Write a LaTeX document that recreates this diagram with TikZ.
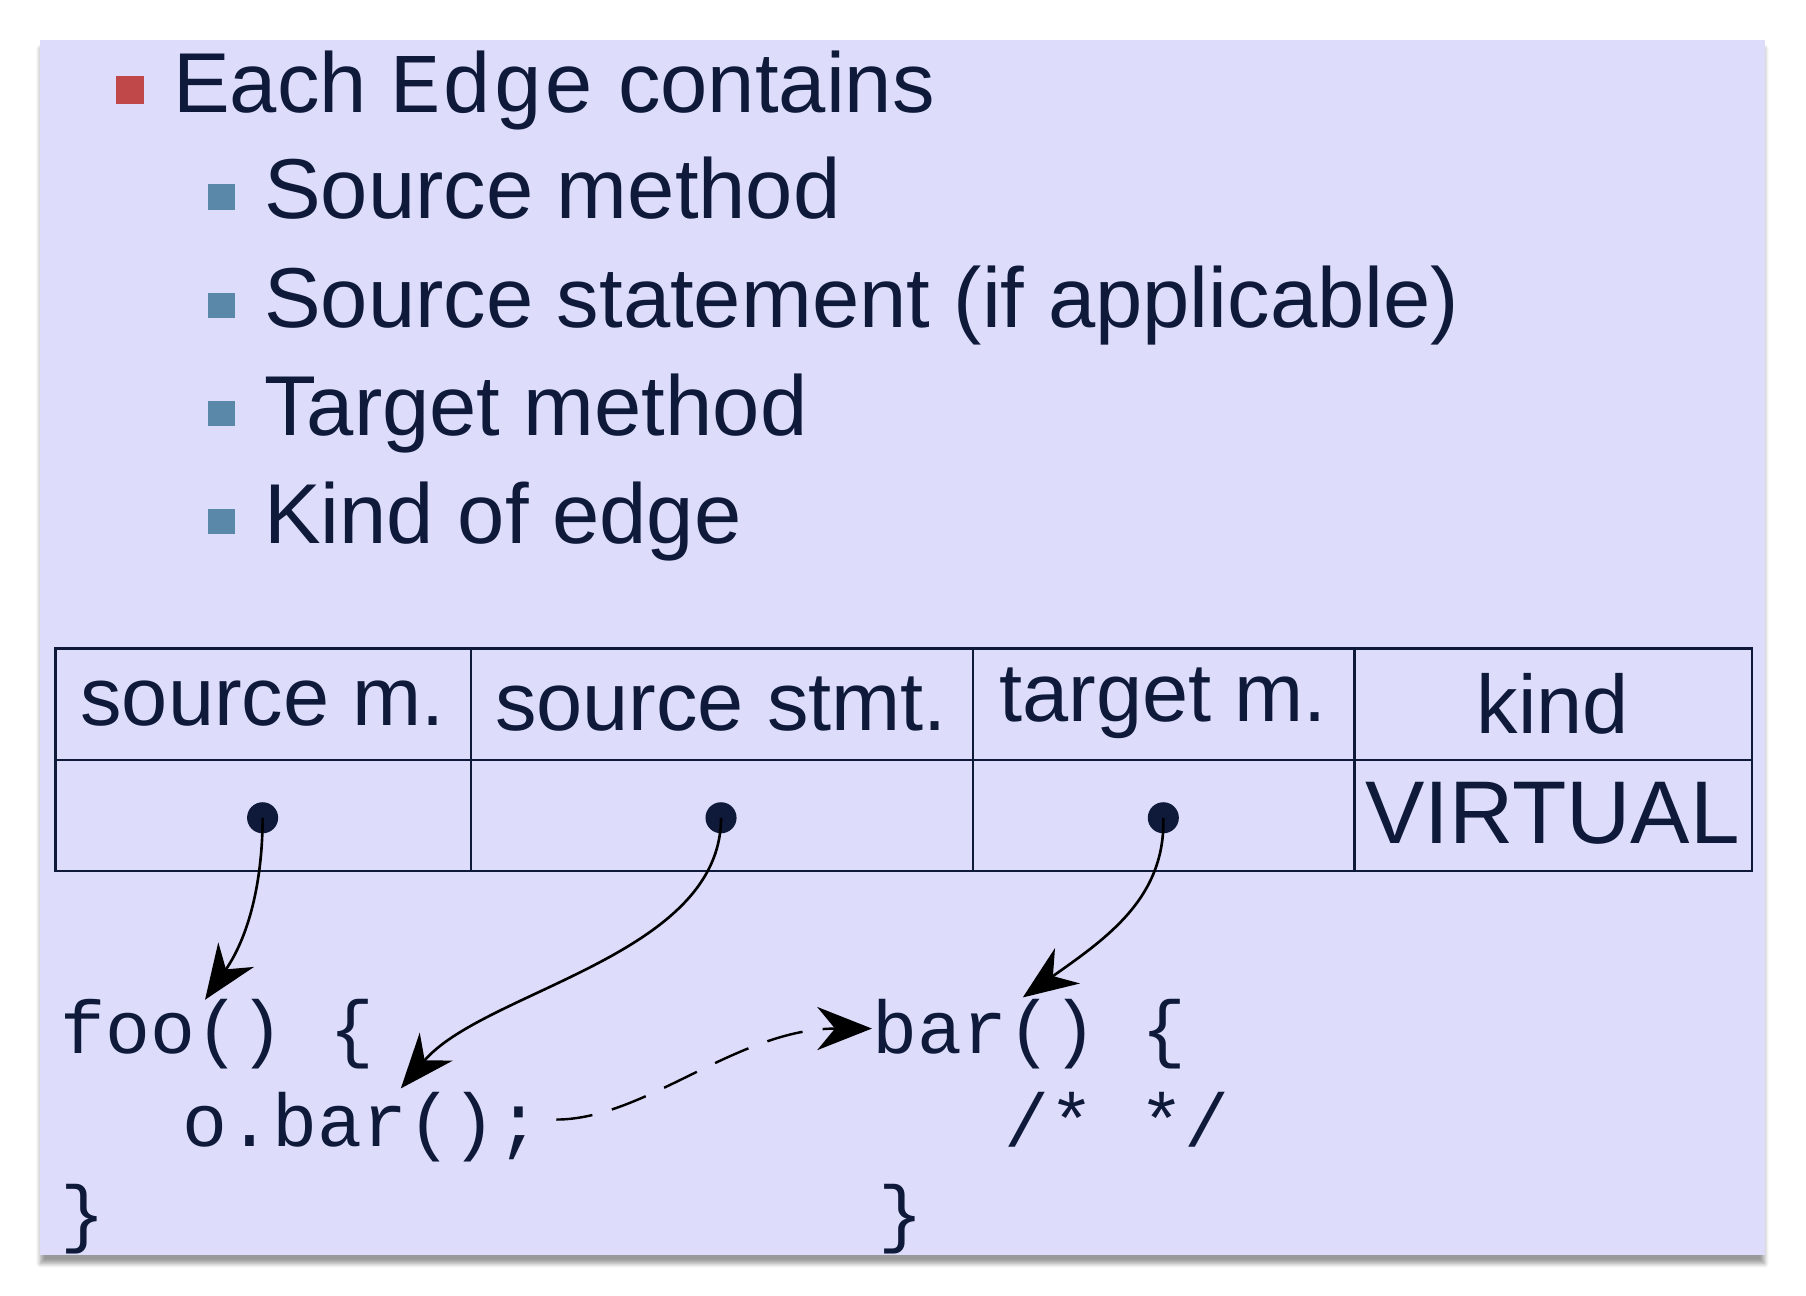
\documentclass[tikz,border=0pt]{standalone}
\usepackage{fontspec}
\setmainfont{Liberation Sans}
\setmonofont{Liberation Mono}
\usetikzlibrary{arrows.meta,shadows.blur}
\definecolor{bg}{HTML}{DDDDFB}
\definecolor{ink}{HTML}{0F1A3A}
\definecolor{redb}{HTML}{C04848}
\definecolor{blueb}{HTML}{5A88A8}
\begin{document}
\begin{tikzpicture}[x=0.02cm,y=-0.02cm,
  big/.style={font=\fontsize{42}{48}\selectfont,text=ink,anchor=base west,inner sep=0},
  code/.style={font=\ttfamily\fontsize{37}{44}\selectfont,text=ink,anchor=base west,inner sep=0},
  cell/.style={font=\fontsize{41}{48}\selectfont,text=ink,inner sep=0},
  dot/.style={circle,fill=ink,inner sep=0,minimum size=0.54cm},
  arr/.style={-{Stealth[length=0.95cm,width=0.75cm]},line width=1.3pt,black}]
\useasboundingbox (0,0) rectangle (1568,1125);
\fill[bg,blur shadow={shadow blur steps=8,shadow xshift=0pt,shadow yshift=-4pt}] (35,35) rectangle (1532,1090);
% bullets
\fill[redb] (101,66) rectangle (125,90);
\node[big] (t0) at (150,98) {Each \texttt{Edge} contains};
\foreach \y/\t/\n in {190/Source method/a,284/Source statement (if applicable)/b,378/Target method/c,472/Kind of edge/d}{
  \fill[blueb] (181,\y-30) rectangle (204,\y-8);
  \node[big] (\n) at (229,\y) {\t};
}
% table
\draw[ink,line width=1.2pt] (48,563) rectangle (1521,756);
\draw[ink,line width=1.2pt] (48,660) -- (1521,660);
\foreach \x in {409,845,1176} \draw[ink,line width=1.2pt] (\x,563) -- (\x,756);
\node[cell] (h1) at (228,611) {source m.};
\node[cell] (h2) at (626,611) {source stmt.};
\node[cell] (h3) at (1010,611) {target m.};
\node[cell] (h4) at (1348,611) {kind};
\node[cell,font=\fontsize{44}{50}\selectfont] (v4) at (1348,706) {VIRTUAL};
\node[dot] (d1) at (228,710) {};
\node[dot] (d2) at (626,710) {};
\node[dot] (d3) at (1010,710) {};
% code
\node[code] (foo) at (52,915) {foo() \{};
\node[code] (obar) at (158,995) {o.bar();};
\node[code] (c1) at (52,1075) {\}};
\node[code] (bar) at (757,915) {bar() \{};
\node[code] (cm) at (872,995) {/* */};
\node[code] (c2) at (762,1075) {\}};
\coordinate (t1) at (178,868);
\coordinate (t2) at (348,945);
\coordinate (t3) at (888,866);
\coordinate (s4) at (483,972);
\coordinate (t4) at (757,893);
\draw[arr] (d1.center) .. controls (228,760) and (218,810) .. (t1);
\draw[arr] (d2.center) .. controls (626,830) and (420,860) .. (t2);
\draw[arr] (d3.center) .. controls (1012,780) and (960,815) .. (t3);
\draw[arr,dashed,dash pattern=on 18pt off 10pt,line width=1.2pt] (s4) .. controls (560,972) and (640,893) .. (t4);
\end{tikzpicture}
\end{document}
